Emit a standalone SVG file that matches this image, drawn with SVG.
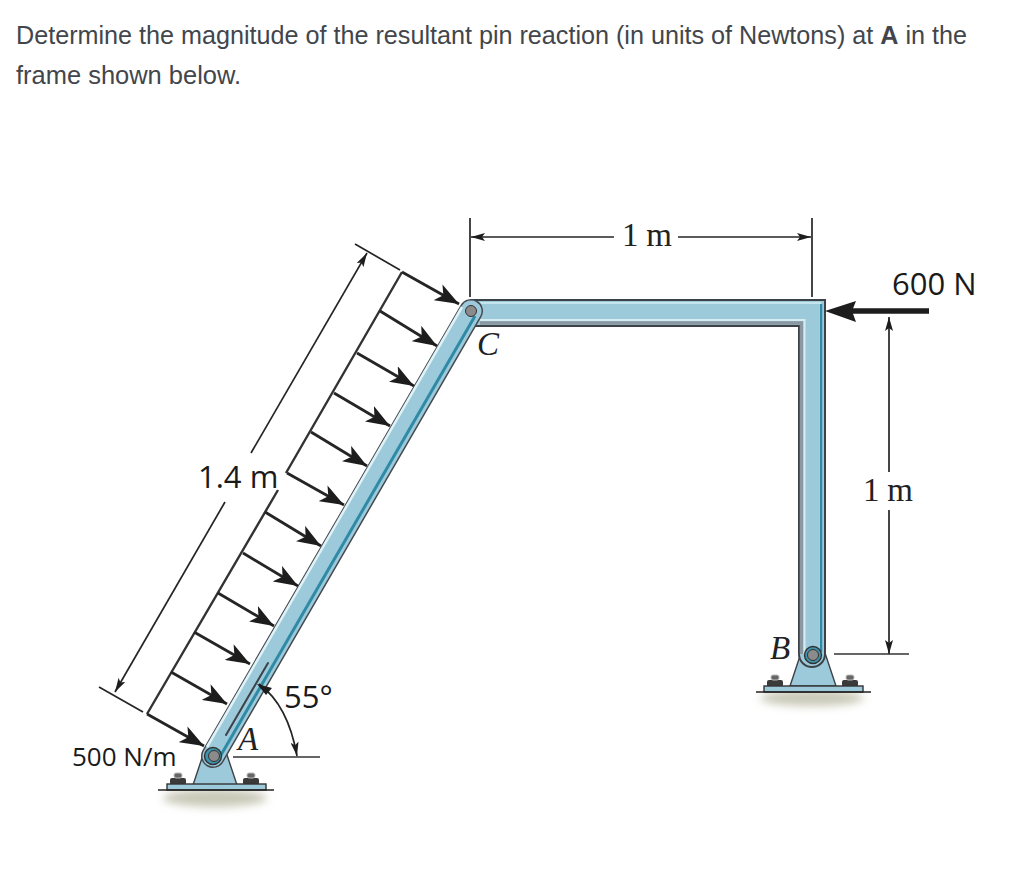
<svg xmlns="http://www.w3.org/2000/svg" width="1024" height="879" viewBox="0 0 1024 879">
<defs>
<marker id="ah" viewBox="0 0 24 18" refX="24" refY="9" markerWidth="24" markerHeight="18" markerUnits="userSpaceOnUse" orient="auto"><path d="M0 0 L24 9 L0 18 L6 9 Z" fill="#1d1d1d"/></marker>
<marker id="dh" viewBox="0 0 14 8" refX="14" refY="4" markerWidth="14" markerHeight="8" markerUnits="userSpaceOnUse" orient="auto"><path d="M0 0 L14 4 L0 8 L3 4 Z" fill="#1d1d1d"/></marker>
<filter id="sh" x="-20%" y="-60%" width="140%" height="220%"><feGaussianBlur stdDeviation="4"/></filter>
<g id="bolt"><rect x="-8" y="-6" width="16" height="7" rx="2" fill="#3a3a3a"/><rect x="-4" y="-11" width="8" height="5" rx="2" fill="#666" stroke="#bbb" stroke-width="1"/></g>
</defs>
<style>
.q{font-family:"Liberation Sans",Arial,sans-serif;font-size:25px;fill:#42464c}
.s{font-family:"Open Sans","Noto Sans",sans-serif;font-size:31px;fill:#1a1a1a}
.t{font-family:"Liberation Serif","Times New Roman",serif;font-size:33px;fill:#222}
.i{font-style:italic}
.d{fill:none;stroke:#252525;stroke-width:1.7}
.l{fill:none;stroke:#333;stroke-width:2.4}
.a{fill:none;stroke:#252525;stroke-width:2.8;marker-end:url(#ah)}
.o{fill:none;stroke:#3c4248;stroke-linecap:round}
.b{fill:#9dcadb}
</style>
<rect width="1024" height="879" fill="#fff"/>
<g id="question">
<text class="q" x="16" y="44" textLength="951" lengthAdjust="spacingAndGlyphs">Determine the magnitude of the resultant pin reaction (in units of Newtons) at <tspan font-weight="700">A</tspan> in the</text>
<text class="q" x="16" y="84" textLength="225" lengthAdjust="spacingAndGlyphs">frame shown below.</text>
</g>
<g id="support-A">
<ellipse cx="215" cy="798" rx="52" ry="9" fill="#c9c9b8" filter="url(#sh)"/>
<path d="M193 785 L204 752 L226 752 L237 785 Z" class="b" stroke="#3c4248" stroke-width="1.4"/>
<use href="#bolt" x="178" y="784"/><use href="#bolt" x="251" y="784"/>
<rect x="167" y="784" width="99" height="6" class="b" stroke="#333" stroke-width="1.4"/>
<line x1="158" y1="790" x2="274" y2="790" stroke="#222" stroke-width="1.6"/>
</g>
<g id="support-B">
<ellipse cx="812" cy="698" rx="52" ry="8" fill="#c9c9b8" filter="url(#sh)"/>
<path d="M790 686 L802 650 L824 650 L836 686 Z" class="b" stroke="#3c4248" stroke-width="1.4"/>
<use href="#bolt" x="775" y="686"/><use href="#bolt" x="850" y="686"/>
<rect x="764" y="686" width="99" height="6" class="b" stroke="#333" stroke-width="1.4"/>
<line x1="756" y1="692" x2="871" y2="692" stroke="#222" stroke-width="1.6"/>
</g>
<g id="frame-BC">
<path d="M471 300 H825 V654 A13 13 0 0 1 799 654 V326 H471 Z" fill="#9dcadb" stroke="#3c4248" stroke-width="2"/>
<path d="M480 303 H820 V654" fill="none" stroke="#c4e4ee" stroke-width="2"/>
<path d="M480 323 H801.500 V654" fill="none" stroke="#8b98a2" stroke-width="3.500"/>
<path d="M480 320 H804.500 V654" fill="none" stroke="#d6ecf3" stroke-width="2"/>
<path d="M821 304 V652" fill="none" stroke="#2f8aa6" stroke-width="2.500"/>
<circle cx="813" cy="655" r="8.500" fill="#3f93ad" stroke="#333" stroke-width="1.400"/>
<circle cx="813" cy="655" r="5.500" fill="#8b8b8b" stroke="#333" stroke-width="1"/>
</g>
<g id="member-AC">
<line x1="213" y1="756" x2="471" y2="311" stroke="#444a50" stroke-width="24" stroke-linecap="round"/>
<line x1="213" y1="756" x2="471" y2="311" stroke="#9dcadb" stroke-width="21" stroke-linecap="round"/>
<line x1="207" y1="747" x2="462" y2="307" stroke="#dff2f7" stroke-width="2.500"/>
<line x1="221" y1="755" x2="475" y2="316" stroke="#2f8aa6" stroke-width="3"/>
<line x1="226" y1="735" x2="268" y2="663" class="o" stroke-width="2"/>
<circle cx="213" cy="756" r="8.500" fill="#3f93ad" stroke="#333" stroke-width="1.400"/>
<circle cx="214" cy="756" r="5.500" fill="#8b8b8b" stroke="#333" stroke-width="1"/>
<circle cx="471" cy="311" r="5.500" fill="#8b8b8b" stroke="#333" stroke-width="1"/>
</g>
<g id="connectors">
<path class="l" d="M147 714 L278 490 M286 473 L402 272"/>
<path class="a" d="M147 714 L204 746"/>
<path class="a" d="M171 672 L227 704"/>
<path class="a" d="M194 632 L250 664"/>
<path class="a" d="M218 593 L274 626"/>
<path class="a" d="M243 553 L298 586"/>
<path class="a" d="M265 512 L321 546"/>
<path class="a" d="M287 473 L344 505"/>
<path class="a" d="M311 432 L367 466"/>
<path class="a" d="M334 393 L390 426"/>
<path class="a" d="M357 353 L414 386"/>
<path class="a" d="M380 311 L437 346"/>
<path class="a" d="M402 272 L459 304"/>
<path class="d" d="M99 687 L143 712"/>
<path class="d" d="M355 244 L400 270"/>
<path class="d" d="M225 502 L115 692" marker-end="url(#dh)"/>
<path class="d" d="M251 453 L367 253" marker-end="url(#dh)"/>
<path class="d" d="M470 218 V297"/>
<path class="d" d="M812 218 V297"/>
<path class="d" d="M614 237 H471" marker-end="url(#dh)"/>
<path class="d" d="M678 237 H811" marker-end="url(#dh)"/>
<path d="M929 311 H850" stroke="#1d1d1d" stroke-width="5.500" fill="none"/>
<path d="M825 311 L856 301 L852 311 L856 322 Z" fill="#1d1d1d"/>
<path class="d" d="M889 472 V317" marker-end="url(#dh)"/>
<path class="d" d="M889 510 V654" marker-end="url(#dh)"/>
<path d="M834 654 H909" stroke="#333" stroke-width="1.700"/>
<path d="M233 757 H320" stroke="#333" stroke-width="1.700"/>
<path class="d" d="M259 684 Q288 705 297 756" marker-end="url(#dh)"/>
<path d="M257 684 L272 688 L266 695 Z" fill="#1d1d1d"/>
</g>
<g id="labels">
<text class="t" x="622" y="246" textLength="50">1 m</text>
<text class="s" x="892" y="295">600 N</text>
<text class="t" x="863" y="501" textLength="50">1 m</text>
<text class="s" x="198" y="488">1.4 m</text>
<text class="s" x="284" y="708">55°</text>
<text class="s" x="72" y="766" style="font-size:26px">500 N/m</text>
<text class="t i" x="477" y="355">C</text>
<text class="t i" x="770" y="659">B</text>
<text class="t i" x="238" y="750">A</text>
</g>
</svg>
